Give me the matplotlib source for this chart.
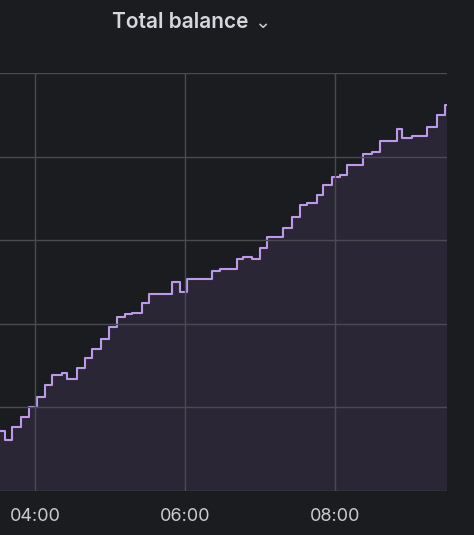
import matplotlib
matplotlib.use('Agg')
import matplotlib.pyplot as plt
import matplotlib.dates as mdates
import pandas as pd

# Datos (hora del cambio y saldo desde ese momento)
horas = ['03:32', '03:36', '03:42', '03:49', '03:55', '04:02', '04:08', '04:14',
         '04:22', '04:26', '04:34', '04:40', '04:46', '04:53', '04:59', '05:06',
         '05:12', '05:18', '05:26', '05:31', '05:50', '05:56', '06:02', '06:22',
         '06:28', '06:42', '06:47', '06:54', '07:00', '07:06', '07:19', '07:26',
         '07:32', '07:38', '07:46', '07:51', '07:58', '08:04', '08:10', '08:23',
         '08:30', '08:36', '08:50', '08:54', '09:02', '09:14', '09:22', '09:28',
         '09:30']
saldo = [71.8, 61.0, 76.6, 88.5, 100.5, 112.4, 126.8, 138.8,
         141.1, 134.0, 147.1, 159.1, 169.9, 181.8, 196.2, 208.1,
         211.7, 212.9, 224.9, 235.6, 250.0, 238.0, 253.6, 263.2,
         265.6, 277.5, 279.9, 277.5, 290.7, 303.8, 314.6, 327.8,
         342.1, 344.5, 354.1, 366.0, 375.6, 378.0, 390.0, 403.1,
         405.5, 418.7, 433.0, 422.3, 424.6, 435.4, 449.8, 461.7,
         461.7]
titulo = 'Total balance'

tiempos = pd.to_datetime(['2024-01-01 ' + h for h in horas])

fondo = '#1b1c20'
fig = plt.figure(figsize=(4.74, 5.35), dpi=100, facecolor=fondo)
ax = fig.add_axes([0.0, 1 - 491 / 535, 447 / 474, (491 - 73) / 535])
ax.set_facecolor(fondo)

ax.fill_between(tiempos, saldo, 0, step='post', color='#2b2636', linewidth=0)
ax.step(tiempos, saldo, where='post', color='#bd9ae8', linewidth=1.5)

ax.set_xlim(tiempos[0], tiempos[-1])
ax.set_ylim(0, 500)
ax.set_yticks(range(0, 501, 100))
ax.xaxis.set_major_locator(mdates.HourLocator(byhour=[4, 6, 8]))
ax.xaxis.set_major_formatter(mdates.DateFormatter('%H:%M'))

ax.grid(True, color='#4a4b52', linewidth=1)
ax.set_axisbelow(False)
for s in ax.spines.values():
    s.set_visible(False)
ax.tick_params(axis='y', left=False, labelleft=False)
ax.tick_params(axis='x', length=0, pad=12, labelsize=13, colors='#cbccd3')
for lbl in ax.get_xticklabels():
    lbl.set_fontfamily(['Inter', 'DejaVu Sans'])

fig.text(180 / 474, 1 - 22 / 535, titulo, ha='center', va='center', fontsize=15,
         fontweight='semibold', color='#d5d6de', family=['Inter', 'DejaVu Sans'])
fig.text(262 / 474, 1 - 23 / 535, '⌄', ha='center', va='center', fontsize=14,
         color='#c9cad1', family=['DejaVu Sans'])

fig.savefig('out.png', dpi=100, facecolor=fondo)
